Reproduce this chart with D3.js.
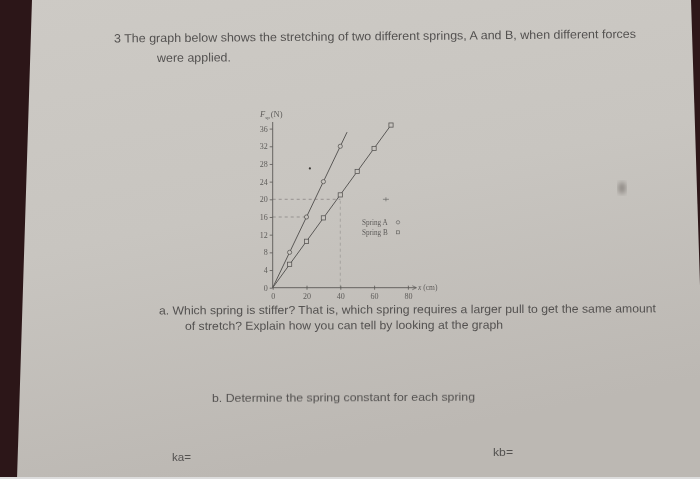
<!DOCTYPE html>
<html><head><meta charset="utf-8">
<script src="https://cdn.jsdelivr.net/npm/d3@7"></script>
<style>html,body{margin:0;padding:0;background:#c6c3be;overflow:hidden}</style>
</head><body>
<svg id="c" width="700" height="479"></svg>
<script>
// ---- data ----
const xTicks = [0, 20, 40, 60, 80];
const yTicks = [0, 4, 8, 12, 16, 20, 24, 28, 32, 36];
const springAx = [10, 20, 30, 40];
const springAy = [8, 16, 24, 32];
const springBx = [10, 20, 30, 40, 50, 60, 70];
const springBy = [5.3, 10.5, 15.8, 21, 26.3, 31.5, 36.8];
const lineAx = [0, 44];
const lineAy = [0, 35.2];
const lineBx = [0, 70];
const lineBy = [0, 36.8];
const guideH = [[0, 40, 20], [0, 20, 16]];   // [x0, x1, y]
const guideV = [[40, 0, 20]];                 // [x, y0, y1]
const legendNames = ["Spring A", "Spring B"];
const questionLines = [
  "3 The graph below shows the stretching of two different springs, A and B, when different forces",
  "were applied.",
  "a. Which spring is stiffer? That is, which spring requires  a larger pull to get the same amount",
  "of stretch? Explain how you can tell by looking at the graph",
  "b. Determine the spring constant for each spring",
  "ka=",
  "kb="
];

const svg = d3.select("#c");
const defs = svg.append("defs");
const g1 = defs.append("linearGradient").attr("id","paper").attr("x1",0).attr("y1",0).attr("x2",0.3).attr("y2",1);
g1.append("stop").attr("offset","0").attr("stop-color","#cdcac5");
g1.append("stop").attr("offset","0.5").attr("stop-color","#c8c5c0");
g1.append("stop").attr("offset","1").attr("stop-color","#bcb8b3");
defs.append("filter").attr("id","soft").append("feGaussianBlur").attr("stdDeviation",0.35);
defs.append("filter").attr("id","smudge").append("feGaussianBlur").attr("stdDeviation",2.5);

// background: paper + dark edges
svg.append("rect").attr("width",700).attr("height",479).attr("fill","url(#paper)");
svg.append("path").attr("d","M0,0 L32,0 L17,479 L0,479 Z").attr("fill","#2c1618");
svg.append("path").attr("d","M691,0 L700,0 L700,285 Z").attr("fill","#2e1719");
svg.append("rect").attr("x",0).attr("y",477).attr("width",700).attr("height",2).attr("fill","#dcdcdc");
svg.append("ellipse").attr("cx",622).attr("cy",188).attr("rx",4).attr("ry",6).attr("fill","#8f8a85").attr("filter","url(#smudge)");

// question text
const txt = svg.append("g").attr("filter","url(#soft)")
  .attr("font-family","'Liberation Sans', Arial, sans-serif").attr("fill","#535150");
const tspec = [
  [114, 42.5, 522, -0.5, 12],
  [157, 62, 74, -0.5, 12],
  [159, 314.5, 497, -0.25, 11.6],
  [185, 330, 318, -0.25, 11.6],
  [212, 402, 263, -0.3, 11.6],
  [172, 461, 19, 0, 11.6],
  [493, 455.7, 20, 0, 11.6]
];
questionLines.forEach((s,i)=>{
  const [x,y,w,r,fs] = tspec[i];
  txt.append("text").attr("x",x).attr("y",y).attr("font-size",fs)
    .attr("textLength",w).attr("lengthAdjust","spacingAndGlyphs")
    .attr("transform",`rotate(${r},${x},${y})`).text(s);
});

// chart
const x = d3.scaleLinear().domain([0, 80]).range([272.7, 407.9]);
const y = d3.scaleLinear().domain([0, 36]).range([287.7, 128.6]);
const ch = svg.append("g").attr("filter","url(#soft)");
const ink = "#5a5856";

// dashed guides
guideH.forEach(([a,b,v])=>ch.append("line").attr("x1",x(a)).attr("x2",x(b)).attr("y1",y(v)).attr("y2",y(v))
  .attr("stroke","#8a8784").attr("stroke-width",0.8).attr("stroke-dasharray","3,3"));
guideV.forEach(([v,a,b])=>ch.append("line").attr("x1",x(v)).attr("x2",x(v)).attr("y1",y(a)).attr("y2",y(b))
  .attr("stroke","#9a9794").attr("stroke-width",0.7).attr("stroke-dasharray","3,3"));

// axes
const yAxis = d3.axisLeft(y).tickValues(yTicks).tickSize(3).tickPadding(2);
const ya = ch.append("g").attr("transform",`translate(${x(0)},0)`).call(yAxis);
ya.select(".domain").remove();
ya.append("line").attr("x1",0).attr("x2",0).attr("y1",y(0)).attr("y2",y(37.5)).attr("stroke",ink).attr("stroke-width",0.9);
ya.selectAll(".tick line").attr("stroke",ink).attr("stroke-width",0.8);
ya.selectAll(".tick text").attr("fill","#5e5c5a").attr("font-size",8)
  .attr("font-family","'Liberation Serif', 'DejaVu Serif', serif");

const xAxis = d3.axisBottom(x).tickValues(xTicks).tickSize(0).tickPadding(6);
const xa = ch.append("g").attr("transform",`translate(0,${y(0)})`).call(xAxis);
xa.select(".domain").remove();
xa.append("line").attr("x1",x(0)).attr("x2",x(85)).attr("y1",0).attr("y2",0).attr("stroke",ink).attr("stroke-width",0.9);
xa.append("path").attr("d",`M${x(85)-4},-2 L${x(85)},0 L${x(85)-4},2`).attr("fill","none").attr("stroke",ink).attr("stroke-width",0.7);
xa.selectAll(".tick").append("line").attr("y1",-2).attr("y2",2).attr("stroke",ink).attr("stroke-width",0.8);
xa.selectAll(".tick text").attr("fill","#5e5c5a").attr("font-size",8)
  .attr("font-family","'Liberation Serif', 'DejaVu Serif', serif");

// axis labels
const yl = ch.append("text").attr("x",260).attr("y",117).attr("fill","#5e5c5a")
  .attr("font-family","'Liberation Serif', serif").attr("font-size",8.5);
yl.append("tspan").attr("font-style","italic").text("F");
yl.append("tspan").attr("font-size",5).attr("dy",2).text("sp");
yl.append("tspan").attr("dy",-2).attr("dx",1).text("(N)");
const xl = ch.append("text").attr("x",x(86)).attr("y",y(0)+2.5).attr("fill","#5e5c5a")
  .attr("font-family","'Liberation Serif', serif").attr("font-size",7.5);
xl.append("tspan").attr("font-style","italic").text("x");
xl.append("tspan").text(" (cm)");

// lines
const line = d3.line().x(d=>x(d[0])).y(d=>y(d[1]));
ch.append("path").datum(lineAx.map((v,i)=>[v,lineAy[i]])).attr("d",line)
  .attr("fill","none").attr("stroke",ink).attr("stroke-width",1);
ch.append("path").datum(lineBx.map((v,i)=>[v,lineBy[i]])).attr("d",line)
  .attr("fill","none").attr("stroke",ink).attr("stroke-width",1);

// markers
ch.selectAll(".ma").data(springAx.map((v,i)=>[v,springAy[i]])).join("circle")
  .attr("cx",d=>x(d[0])).attr("cy",d=>y(d[1])).attr("r",2.1)
  .attr("fill","#c8c5c0").attr("stroke",ink).attr("stroke-width",0.8);
ch.selectAll(".mb").data(springBx.map((v,i)=>[v,springBy[i]])).join("rect")
  .attr("x",d=>x(d[0])-2.1).attr("y",d=>y(d[1])-2.1).attr("width",4.2).attr("height",4.2)
  .attr("fill","#c8c5c0").attr("stroke",ink).attr("stroke-width",0.8);

// legend
legendNames.forEach((n,i)=>{
  const ly = 222.3 + i*10;
  ch.append("text").attr("x",362).attr("y",ly+2.4).attr("fill","#5e5c5a")
    .attr("font-family","'Liberation Serif', serif").attr("font-size",7.2).text(n);
  if(i===0) ch.append("circle").attr("cx",398).attr("cy",ly).attr("r",1.7)
    .attr("fill","none").attr("stroke","#6a6866").attr("stroke-width",0.7);
  else ch.append("rect").attr("x",396.5).attr("y",ly-1.5).attr("width",3).attr("height",3)
    .attr("fill","none").attr("stroke","#6a6866").attr("stroke-width",0.7);
});

// stray pencil marks
ch.append("circle").attr("cx",x(22)).attr("cy",y(27)).attr("r",1.1).attr("fill","#3a3836");
ch.append("path").attr("d",`M${x(67)-3},${y(20)} h6 M${x(67)},${y(20)-2} v4`)
  .attr("stroke","#6a6866").attr("stroke-width",0.7);
</script>
</body></html>
